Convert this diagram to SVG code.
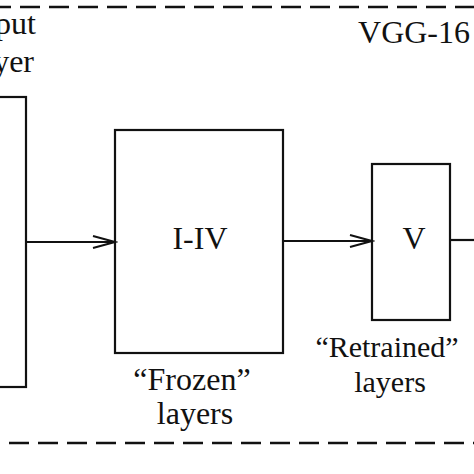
<svg xmlns="http://www.w3.org/2000/svg" width="474" height="474" viewBox="0 0 474 474">
<style>
.box{fill:#fff;stroke:#111;stroke-width:2.2}
.dash{stroke:#111;stroke-width:2.6;stroke-dasharray:20 9;fill:none}
.conn{stroke:#111;stroke-width:2.2;fill:none}
.t{font-family:"Liberation Serif","Times New Roman",serif;font-size:32px;fill:#111}
.m{text-anchor:middle}
</style>
<defs>
<marker id="chev" markerUnits="userSpaceOnUse" markerWidth="26" markerHeight="16" refX="23" refY="7" orient="auto">
<path d="M1,1 L23,7 L1,13" fill="none" stroke="#111" stroke-width="2"/>
</marker>
</defs>
<rect width="474" height="474" fill="#fff"/>
<g id="frame">
<line class="dash" x1="-9" y1="7" x2="474" y2="7"/>
<line class="dash" x1="9" y1="443" x2="474" y2="443"/>
<text class="t" x="470" y="43" text-anchor="end">VGG-16</text>
</g>
<g id="input">
<rect class="box" x="-10" y="97" width="36" height="290"/>
<text class="t m" x="2" y="34">Input</text>
<text class="t m" x="2" y="72">layer</text>
</g>
<g id="frozen">
<rect class="box" x="115" y="130" width="168" height="223"/>
<text class="t m" x="200" y="249">I-IV</text>
<text class="t m" x="192" y="390">“Frozen”</text>
<text class="t m" x="195" y="424">layers</text>
</g>
<g id="retrained">
<rect class="box" x="372" y="164" width="78" height="156"/>
<text class="t m" x="414" y="249">V</text>
<text class="t m" x="387" y="357" style="font-size:30px">“Retrained”</text>
<text class="t m" x="390" y="392" style="font-size:30px">layers</text>
</g>
<g id="connectors">
<line class="conn" x1="26" y1="242" x2="115" y2="242" marker-end="url(#chev)"/>
<line class="conn" x1="283" y1="241" x2="372" y2="241" marker-end="url(#chev)"/>
<line class="conn" x1="450" y1="240" x2="474" y2="240"/>
</g>
</svg>
